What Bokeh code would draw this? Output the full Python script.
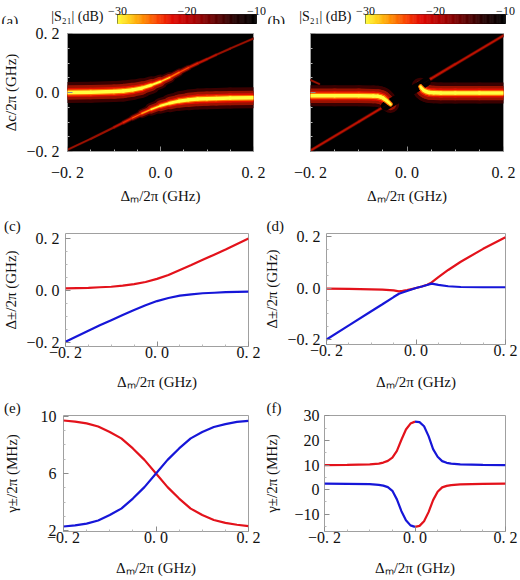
import numpy as np
from bokeh.plotting import figure
from bokeh.models import Range1d, FixedTicker, Label, LinearAxis, Title
from bokeh.layouts import column, row
from bokeh.embed import file_html
from bokeh.resources import INLINE

FONT = "Liberation Serif"
RED = "#e3121b"
BLUE = "#1616d8"
FRAME = "#a0a0a0"
TXT = "#111111"

# ====================== DATA ======================
# (a) |S21| map: ridge positions Δc/2π (GHz) vs Δm/2π (GHz) and relative brightness
a_up_x = [-0.2, -0.15, -0.1, -0.08, -0.06, -0.04, -0.02, 0.0, 0.02, 0.04, 0.06, 0.08, 0.1, 0.12, 0.15, 0.2]
a_up_y = [0.0, 0.001, 0.003, 0.005, 0.009, 0.015, 0.025, 0.037, 0.051, 0.068, 0.084, 0.099, 0.113, 0.128, 0.149, 0.183]
a_up_i = [1.0, 1.0, 1.0, 1.0, 0.97, 0.9, 0.75, 0.55, 0.38, 0.25, 0.16, 0.1, 0.07, 0.05, 0.035, 0.025]
a_lo_x = [-0.2, -0.15, -0.1, -0.08, -0.06, -0.04, -0.02, 0.0, 0.02, 0.04, 0.06, 0.08, 0.1, 0.12, 0.15, 0.2]
a_lo_y = [-0.194, -0.157, -0.118, -0.102, -0.086, -0.071, -0.057, -0.045, -0.036, -0.029, -0.025, -0.022, -0.021, -0.020, -0.019, -0.018]
a_lo_i = [0.025, 0.035, 0.06, 0.1, 0.17, 0.3, 0.48, 0.65, 0.8, 0.9, 0.97, 1.0, 1.0, 1.0, 1.0, 1.0]

# (b) |S21| map
b_left_x = [-0.2, -0.15, -0.1, -0.07, -0.06, -0.055, -0.05, -0.046, -0.042, -0.038, -0.034]
b_left_y = [-0.011, -0.011, -0.011, -0.012, -0.013, -0.015, -0.018, -0.023, -0.028, -0.034, -0.040]
b_left_i = [1.0, 1.0, 1.0, 1.0, 1.0, 1.0, 1.0, 0.95, 0.9, 0.85, 0.75]
b_right_x = [0.028, 0.031, 0.035, 0.04, 0.046, 0.055, 0.07, 0.1, 0.15, 0.2]
b_right_y = [0.020, 0.013, 0.007, 0.003, 0.0, -0.001, -0.002, -0.002, -0.002, -0.002]
b_right_i = [0.75, 0.9, 0.95, 1.0, 1.0, 1.0, 1.0, 1.0, 1.0, 1.0]
b_diag_x = [-0.2, -0.1, -0.05, -0.035, -0.025, 0.025, 0.035, 0.05, 0.1, 0.2]
b_diag_y = [-0.197, -0.099, -0.05, -0.036, -0.026, 0.023, 0.032, 0.047, 0.096, 0.193]
b_diag_i = [0.07, 0.08, 0.1, 0.12, 0.0, 0.0, 0.12, 0.1, 0.08, 0.07]
b_faint_x = [-0.2, -0.182]
b_faint_y = [0.042, 0.029]
b_faint_i = [0.03, 0.02]
b_shadow_x = [-0.045, 0.04]
b_shadow_y = [-0.046, 0.036]

# colour scale of the maps (dB)
cb_ticks = [-30, -20, -10]
cb_tick_labels = ["\u221230", "\u221220", "\u221210"]
cb_title = "|S\u2082\u2081| (dB)"

# (c) eigenfrequencies Δ±/2π (GHz)
c_x = [-0.2, -0.175, -0.15, -0.125, -0.1, -0.075, -0.05, -0.025, 0.0, 0.025, 0.05, 0.075, 0.1, 0.125, 0.15, 0.175, 0.2]
c_red = [0.009, 0.010, 0.011, 0.013, 0.015, 0.019, 0.025, 0.033, 0.045, 0.060, 0.079, 0.098, 0.118, 0.138, 0.158, 0.179, 0.2]
c_blue = [-0.196, -0.175, -0.154, -0.133, -0.113, -0.093, -0.074, -0.056, -0.040, -0.028, -0.019, -0.014, -0.010, -0.008, -0.006, -0.005, -0.004]

# (d)
d_x = [-0.2, -0.15, -0.1, -0.075, -0.05, -0.038, -0.03, -0.02, -0.01, 0.0, 0.013, 0.025, 0.035, 0.05, 0.072, 0.1, 0.15, 0.2]
d_red = [-0.002, -0.003, -0.005, -0.0065, -0.009, -0.013, -0.011, -0.008, -0.004, 0.0, 0.006, 0.013, 0.022, 0.042, 0.07, 0.102, 0.152, 0.197]
d_blue = [-0.2, -0.145, -0.09, -0.063, -0.035, -0.022, -0.0174, -0.0116, -0.0058, 0.0, 0.006, 0.012, 0.017, 0.012, 0.007, 0.004, 0.003, 0.003]

# (e) linewidths γ±/2π (MHz)
e_x = [-0.2, -0.175, -0.15, -0.125, -0.1, -0.075, -0.05, -0.025, 0.0, 0.025, 0.05, 0.075, 0.1, 0.125, 0.15, 0.175, 0.2]
e_red = [9.7, 9.62, 9.5, 9.28, 8.9, 8.45, 7.75, 6.95, 6.0, 5.05, 4.25, 3.55, 3.1, 2.75, 2.55, 2.42, 2.33]
e_blue = [2.3, 2.38, 2.5, 2.72, 3.1, 3.55, 4.25, 5.05, 6.0, 6.95, 7.75, 8.45, 8.9, 9.25, 9.45, 9.6, 9.68]

# (f)
f_xl = [-0.2, -0.15, -0.1, -0.08, -0.07, -0.06, -0.05, -0.04, -0.03, -0.02, -0.01, 0.0]
f_red_l = [10.0, 10.1, 10.3, 10.6, 11.0, 11.7, 13.0, 15.8, 20.3, 24.5, 26.9, 27.7]
f_blue_l = [2.4, 2.35, 2.2, 1.9, 1.6, 1.0, -0.5, -4.0, -8.8, -12.5, -14.6, -15.2]
f_xr = [0.0, 0.01, 0.02, 0.03, 0.04, 0.05, 0.06, 0.07, 0.08, 0.1, 0.15, 0.2]
f_blue_r = [27.7, 27.5, 25.8, 21.8, 16.5, 13.4, 11.6, 10.9, 10.6, 10.3, 10.1, 10.0]
f_red_r = [-15.2, -14.8, -12.9, -9.2, -4.3, -0.9, 0.9, 1.5, 1.8, 2.1, 2.3, 2.4]

# axis ticks and titles
gx_ticks = [-0.2, 0.0, 0.2]
gx_labels = ["\u22120. 2", "0. 0", "0. 2"]
g_minor = [-0.15, -0.1, -0.05, 0.05, 0.1, 0.15]
e_ticks = [2, 6, 10]
e_labels = ["2", "6", "10"]
e_minor = [3, 4, 5, 7, 8, 9]
f_ticks = [-10, 0, 10, 20, 30]
f_labels = ["\u221210", "0", "10", "20", "30"]
f_minor = [-15, -5, 5, 15, 25]
x_title = "\u0394\u2098/2\u03c0 (GHz)"
yc_title = "\u0394c/2\u03c0 (GHz)"
yd_title = "\u0394\u00b1/2\u03c0 (GHz)"
yg_title = "\u03b3\u00b1/2\u03c0 (MHz)"


# ====================== helpers ======================
def no_align(p):
    try:
        p.frame_align = False
    except Exception:
        pass
    return p


def strip(left, top, right, bottom):
    """A small text-only canvas whose data coordinates equal page pixels."""
    p = figure(width=right - left, height=bottom - top, x_range=Range1d(left, right),
               y_range=Range1d(bottom, top), x_axis_type=None, y_axis_type=None,
               output_backend="svg", toolbar_location=None, title=None,
               min_border_left=0, min_border_right=0, min_border_top=0, min_border_bottom=0,
               background_fill_color="white", border_fill_color="white")
    p.outline_line_color = None
    return no_align(p)


def put(p, x, y, text, size):
    p.add_layout(Label(x=x, y=y, text=text, text_font=FONT, text_font_size=f"{size}px",
                       text_align="left", text_baseline="alphabetic", text_color=TXT))


def main_fig(fig_box, frame_box, xr, yr):
    fl, ft, fr, fb = fig_box
    L, T, R, B = frame_box
    p = figure(width=fr - fl, height=fb - ft, x_range=Range1d(*xr), y_range=Range1d(*yr),
               output_backend="svg", toolbar_location=None, title=None,
               min_border_left=L - fl, min_border_right=fr - R,
               min_border_top=T - ft, min_border_bottom=fb - B,
               background_fill_color="white", border_fill_color="white")
    p.xgrid.visible = False
    p.ygrid.visible = False
    p.outline_line_color = FRAME
    return no_align(p)


def axes(p, xt, xl, xm, yt, yl, ym, xs, ys, x_so, ytitle=None, y_so=4, tick_size=16):
    p.xaxis.ticker = FixedTicker(ticks=xt, minor_ticks=xm)
    p.yaxis.ticker = FixedTicker(ticks=yt, minor_ticks=ym)
    p.xaxis.major_label_overrides = dict(zip(xt, xl))
    p.yaxis.major_label_overrides = dict(zip(yt, yl))
    for ax, so in ((p.xaxis[0], xs), (p.yaxis[0], ys)):
        ax.axis_line_color = None
        ax.major_tick_in = 5
        ax.major_tick_out = 0
        ax.minor_tick_in = 2
        ax.minor_tick_out = 0
        ax.major_tick_line_color = "#8c8c8c"
        ax.minor_tick_line_color = "#b8b8b8"
        ax.major_label_text_font = FONT
        ax.major_label_text_font_size = f"{tick_size}px"
        ax.major_label_text_color = TXT
        ax.major_label_standoff = so
        ax.axis_label_text_font = FONT
        ax.axis_label_text_font_size = "15px"
        ax.axis_label_text_font_style = "normal"
        ax.axis_label_text_color = TXT
    p.xaxis[0].axis_label = x_title
    p.xaxis[0].axis_label_standoff = x_so
    if ytitle is not None:
        p.yaxis[0].axis_label = ytitle
        p.yaxis[0].axis_label_standoff = y_so


def letter(p, text, offset):
    p.add_layout(Title(text=text, align="left", offset=offset, standoff=0, text_font=FONT,
                       text_font_size="15px", text_font_style="normal", text_color=TXT), "above")


def palette_from_stops():
    stops = [(-30, (255, 255, 60)), (-28, (255, 200, 20)), (-26, (255, 130, 0)), (-24, (250, 60, 0)),
             (-22, (225, 10, 0)), (-19, (170, 0, 0)), (-16, (100, 0, 0)), (-13, (35, 0, 0)), (-10, (0, 0, 0))]
    sv = np.array([s[0] for s in stops], dtype=float)
    cols = np.array([s[1] for s in stops], dtype=float)
    vals = np.linspace(-30, -10, 256)
    out = []
    for v in vals:
        r, g, b = (np.interp(v, sv, cols[:, k]) for k in range(3))
        out.append("#%02x%02x%02x" % (int(r), int(g), int(b)))
    return out


PAL = palette_from_stops()


def glow(p, ridges, shadow=None):
    segs = []
    for xs, ys, ii in ridges:
        for k in range(len(xs) - 1):
            segs.append((xs[k], ys[k], xs[k + 1], ys[k + 1], 0.5 * (ii[k] + ii[k + 1])))
    arr = np.array(segs)
    x0, y0, x1, y1, I = arr.T

    def layer(color, widths):
        m = widths > 0.05
        p.segment(x0=x0[m], y0=y0[m], x1=x1[m], y1=y1[m], line_color=color,
                  line_width=widths[m], line_cap="round")

    layer("#3a0000", np.where(I > 0, 2.0 + 19 * I, 0.0))
    layer("#9a1200", np.where(I > 0, 1.3 + 13 * I, 0.0))
    layer("#e01000", np.where(I > 0.05, 9 * I, 0.0))
    if shadow is not None:
        p.segment(x0=[shadow[0][0]], y0=[shadow[1][0]], x1=[shadow[0][1]], y1=[shadow[1][1]],
                  line_color="black", line_width=9, line_cap="round")
    layer("#ff7000", np.clip(6.5 * (I - 0.1), 0, None))
    layer("#ffff40", np.clip(5.0 * (I - 0.3), 0, None))


def colorbar_fig(fig_box, frame_box):
    fl, ft, fr, fb = fig_box
    L, T, R, B = frame_box
    lo, hi = cb_ticks[0], cb_ticks[-1]
    p = figure(width=fr - fl, height=fb - ft, x_range=Range1d(lo, hi), y_range=Range1d(0, 1),
               x_axis_type=None, y_axis_type=None, output_backend="svg", toolbar_location=None,
               title=None, min_border_left=L - fl, min_border_right=fr - R,
               min_border_top=T - ft, min_border_bottom=fb - B,
               background_fill_color="white", border_fill_color="white")
    p.outline_line_color = "#303030"
    edges = np.linspace(lo, hi, 121)
    mids = 0.5 * (edges[:-1] + edges[1:])
    cols = [PAL[int(round((m - lo) / (hi - lo) * 255))] for m in mids]
    p.quad(left=edges[:-1], right=edges[1:], bottom=0, top=1, fill_color=cols,
           line_color=cols, line_width=0.6)
    ax = LinearAxis(ticker=FixedTicker(ticks=cb_ticks), major_label_overrides=dict(zip(cb_ticks, cb_tick_labels)))
    ay = LinearAxis(ticker=FixedTicker(ticks=[0.85]), major_label_overrides={0.85: cb_title})
    for a, size, so in ((ax, "12px", 0), (ay, "14px", 14)):
        a.axis_line_color = None
        a.major_tick_line_color = None
        a.minor_tick_line_color = None
        a.major_tick_in = 0
        a.major_tick_out = 0
        a.major_label_text_font = FONT
        a.major_label_text_font_size = size
        a.major_label_text_color = TXT
        a.major_label_standoff = so
    p.add_layout(ax, "above")
    p.add_layout(ay, "left")
    return no_align(p)


def box(p):
    return column(p)


# ====================== row 1 : (a) (b) ======================
letter_a = strip(0, 0, 26, 24)
put(letter_a, 1, 20, "(a)", 15)
top_a = colorbar_fig((26, 0, 266, 24), (117, 14, 256, 24))
ma = main_fig((0, 24, 266, 206), (63, 33, 253, 152), (-0.2, 0.2), (-0.2, 0.2))
ma.background_fill_color = "black"
glow(ma, [(a_up_x, a_up_y, a_up_i), (a_lo_x, a_lo_y, a_lo_i)])
axes(ma, gx_ticks, gx_labels, g_minor, gx_ticks, gx_labels, g_minor, 12, 8, 4, yc_title, 4)

letter_b = strip(266, 0, 290, 24)
put(letter_b, 267, 20, "(b)", 15)
top_b = colorbar_fig((290, 0, 518, 24), (365, 14, 505, 24))
mb = main_fig((266, 24, 518, 206), (310, 33, 503, 152), (-0.2, 0.2), (-0.2, 0.2))
mb.background_fill_color = "black"
glow(mb, [(b_faint_x, b_faint_y, b_faint_i), (b_diag_x, b_diag_y, b_diag_i),
          (b_left_x, b_left_y, b_left_i), (b_right_x, b_right_y, b_right_i)],
     shadow=(b_shadow_x, b_shadow_y))
axes(mb, gx_ticks, gx_labels, g_minor, gx_ticks, ["", "", ""], g_minor, 12, 5, 4)

# ====================== row 2 : (c) (d) ======================
mc = main_fig((0, 206, 261, 392), (62, 233, 248, 347), (-0.2, 0.2), (-0.214, 0.219))
mc.line(c_x, c_red, line_color=RED, line_width=2.2)
mc.line(c_x, c_blue, line_color=BLUE, line_width=2.2)
axes(mc, gx_ticks, gx_labels, g_minor, gx_ticks, gx_labels, g_minor, -3, 6, 10, yd_title, 4)
letter(mc, "(c)", -61.5)

md = main_fig((261, 206, 518, 392), (322, 233, 505, 345), (-0.2, 0.2), (-0.219, 0.2115))
md.line(d_x, d_red, line_color=RED, line_width=2.2)
md.line(d_x, d_blue, line_color=BLUE, line_width=2.2)
axes(md, gx_ticks, gx_labels, g_minor, gx_ticks, gx_labels, g_minor, -3, 6, 12, yd_title, 4)
letter(md, "(d)", -60)

# ====================== row 3 : (e) (f) ======================
me = main_fig((0, 392, 261, 578), (60, 415, 248, 533), (-0.2, 0.2), (1.95, 10.05))
me.line(e_x, e_red, line_color=RED, line_width=2.2)
me.line(e_x, e_blue, line_color=BLUE, line_width=2.2)
axes(me, gx_ticks, gx_labels, g_minor, e_ticks, e_labels, e_minor, -3, 7, 11, yg_title, 18)
letter(me, "(e)", -59.5)

mf = main_fig((261, 392, 518, 578), (320, 415, 505, 533), (-0.2, 0.2), (-17.1, 30.2))
mf.line(f_xl, f_red_l, line_color=RED, line_width=2.2)
mf.line(f_xl, f_blue_l, line_color=BLUE, line_width=2.2)
mf.line(f_xr, f_blue_r, line_color=BLUE, line_width=2.2)
mf.line(f_xr, f_red_r, line_color=RED, line_width=2.2)
axes(mf, gx_ticks, gx_labels, g_minor, f_ticks, f_labels, f_minor, -3, 5, 11, yg_title, 11)
letter(mf, "(f)", -58)

row1 = row(column(row(box(letter_a), box(top_a)), box(ma)),
           column(row(box(letter_b), box(top_b)), box(mb)))
row2 = row(box(mc), box(md))
row3 = row(box(me), box(mf))
layout = column(row1, row2, row3)
open("out.html", "w").write(file_html(layout, INLINE))
